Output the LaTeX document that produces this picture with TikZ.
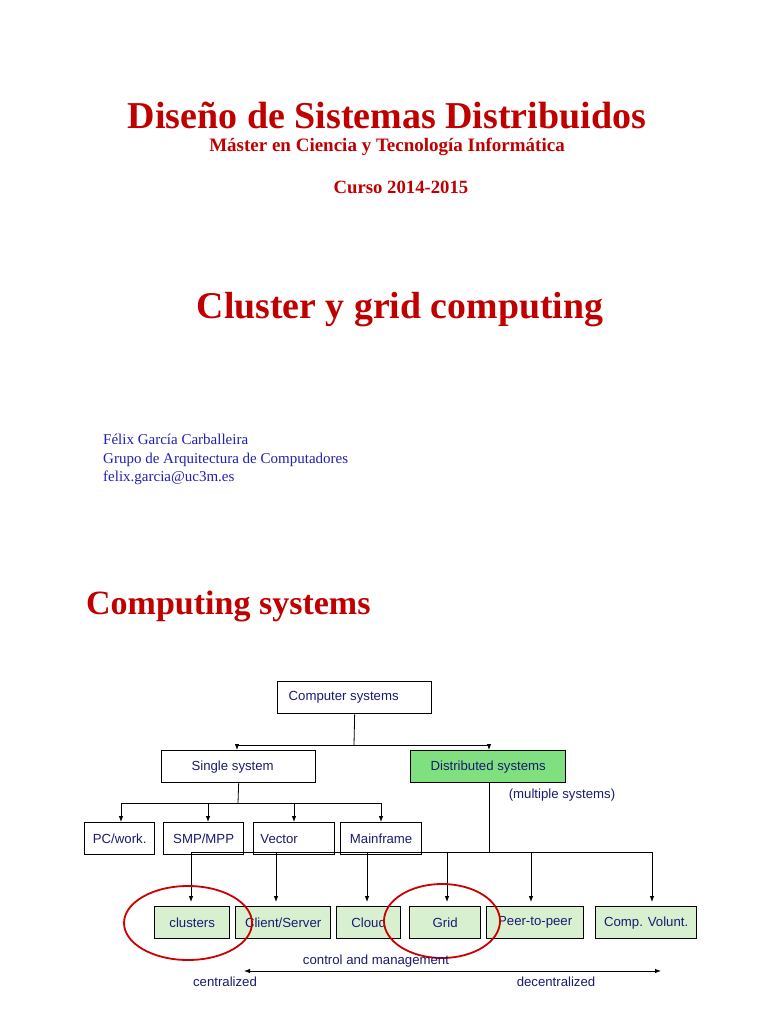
\documentclass[tikz,border=0pt]{standalone}
\usepackage{fontspec}
\setmainfont{Liberation Serif}
\newfontfamily\arialf{Liberation Sans}
\usetikzlibrary{arrows.meta}
\definecolor{tred}{HTML}{C00000}
\definecolor{tblue}{HTML}{2020B0}
\definecolor{tnavy}{HTML}{1A1A70}
\definecolor{dgreen}{HTML}{80E080}
\definecolor{lgreen}{HTML}{D8F0D0}
\begin{document}
\begin{tikzpicture}[x=1pt,y=-1pt,
  bx/.style={draw,line width=1.3pt,minimum height=32pt,inner sep=0pt,font=\arialf\fontsize{13.2}{15}\selectfont,text=tnavy,anchor=north west},
  lbl/.style={font=\arialf\fontsize{13.2}{15}\selectfont,text=tnavy},
  ar/.style={-{Latex[length=6pt,width=4.5pt]},line width=0.8pt},
  ln/.style={line width=0.8pt}]
\useasboundingbox (0,0) rectangle (768,1024);
\node[text=tred,font=\bfseries\fontsize{38}{40}\selectfont] (t1) at (387,115) {Diseño de Sistemas Distribuidos};
\node[text=tred,font=\bfseries\fontsize{19}{21}\selectfont] (t2) at (387,147) {Máster en Ciencia y Tecnología Informática};
\node[text=tred,font=\bfseries\fontsize{18.7}{21}\selectfont] (t3) at (401,187) {Curso 2014-2015};
\node[text=tred,font=\bfseries\fontsize{37.8}{40}\selectfont] (t4) at (400,310) {Cluster y grid computing};
\node[text=tblue,font=\fontsize{15}{18.5}\selectfont,anchor=north west,align=left,inner sep=0pt] (au) at (103,434) {Félix García Carballeira\\Grupo de Arquitectura de Computadores\\felix.garcia@uc3m.es};
\node[text=tred,font=\bfseries\fontsize{34}{36}\selectfont,anchor=west,inner sep=0pt] (cs) at (86,606) {Computing systems};

\node[bx,minimum width=154pt] (comp) at (277,681) {\hspace*{-22pt}Computer systems};
\node[bx,minimum width=154pt] (single) at (161,750) {\hspace*{-12pt}Single system};
\node[bx,minimum width=155pt,fill=dgreen] (dist) at (410,750) {Distributed systems};
\node[bx,minimum width=70pt] (pc) at (84,822) {PC/work.};
\node[bx,minimum width=80pt] (smp) at (163,822) {SMP/MPP};
\node[bx,minimum width=81pt] (vec) at (253,822) {\hspace*{-30pt}Vector};
\node[bx,minimum width=81pt] (mf) at (340,822) {Mainframe};
\node[bx,minimum width=75pt,fill=lgreen] (cl) at (154,906) {clusters};
\node[bx,minimum width=95pt,fill=lgreen] (csv) at (235,906) {Client/Server};
\node[bx,minimum width=64pt,fill=lgreen] (cld) at (336,906) {Cloud};
\node[bx,minimum width=71pt,fill=lgreen] (grid) at (409,906) {Grid};
\node[bx,minimum width=97pt,fill=lgreen] (p2p) at (486,906) {Peer-to-peer};
\node[bx,minimum width=101pt,fill=lgreen] (cv) at (595,906) {Comp. Volunt.};

\coordinate (j1) at (354,745);
\draw[ln] (comp.south) -- (j1);
\draw[ar] (j1) -| (single.north -| 237,0);
\draw[ar] (j1) -| (dist.north -| 489,0);
\coordinate (j2) at (238,803);
\draw[ln] (single.south) -- (j2);
\foreach \x/\n in {121/pc,208/smp,294/vec,381/mf}{\draw[ar] (j2) -| (\n.north -| \x,0);}
\coordinate (j3) at (489,852);
\draw[ln] (dist.south -| 489,0) -- (j3);
\foreach \x/\n in {191/cl,276/csv,367/cld,447/grid,531/p2p,652/cv}{\draw[ar] (j3) -| (\x,902);}

\node[lbl] (ms) at (562,795) {(multiple systems)};
\draw[red!80!black,line width=1.8pt] (188,923) ellipse[x radius=64,y radius=37];
\draw[red!80!black,line width=1.8pt] (442,921) ellipse[x radius=58,y radius=37];
\node[lbl] (cm) at (376,961) {control and management};
\coordinate (a1) at (244,971); \coordinate (a2) at (661,971);
\draw[{Latex[length=6pt,width=4.5pt]}-{Latex[length=6pt,width=4.5pt]},ln] (a1) -- (a2);
\node[lbl] (ce) at (225,982) {centralized};
\node[lbl] (de) at (556,982) {decentralized};
\end{tikzpicture}
\end{document}
